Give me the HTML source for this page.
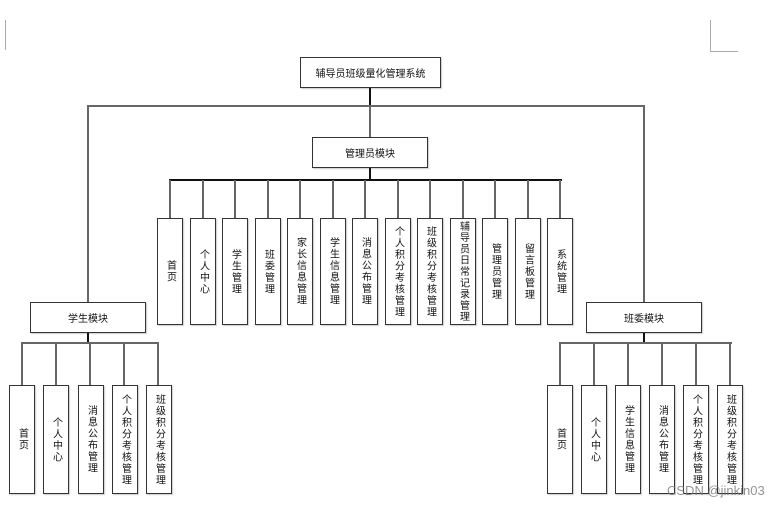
<!DOCTYPE html>
<html><head><meta charset="utf-8"><style>
body{margin:0;width:782px;height:508px;background:#fff;position:relative;overflow:hidden;font-family:"Liberation Sans","Noto Sans CJK SC",sans-serif;}
.b{position:absolute;box-sizing:border-box;border:1.5px solid #333;background:#fff;box-shadow:1px 1px 1px #ccc;display:flex;align-items:center;justify-content:center;font-size:10px;color:#111;}
.v{writing-mode:vertical-rl;letter-spacing:1.5px;}
.h{position:absolute;height:2px;background:#666;}
.l{position:absolute;width:2px;background:#666;}
.k{background:#111;}
</style></head><body>
<div class="l" style="left:5px;top:20px;height:30px;background:#aaa;width:1px"></div>
<div class="l" style="left:710px;top:20px;height:31px;background:#aaa;width:1px"></div>
<div class="h" style="left:710px;top:51px;width:28px;background:#aaa;height:1px"></div>

<div class="b" style="left:300px;top:57px;width:141px;height:31px">辅导员班级量化管理系统</div>
<div class="l k" style="left:369px;top:88px;height:19px"></div>
<div class="h" style="left:88px;top:105px;width:557px"></div>
<div class="l" style="left:87px;top:105px;height:197px"></div>
<div class="l" style="left:643px;top:105px;height:197px"></div>
<div class="l" style="left:369px;top:107px;height:30px"></div>

<div class="b" style="left:312px;top:137px;width:116px;height:31px">管理员模块</div>
<div class="l k" style="left:369px;top:168px;height:12px"></div>
<div class="h k" style="left:169px;top:179px;width:393px"></div>

<div class="l" style="left:169px;top:180px;height:38px"></div>
<div class="l" style="left:202px;top:180px;height:38px"></div>
<div class="l" style="left:234px;top:180px;height:38px"></div>
<div class="l" style="left:267px;top:180px;height:38px"></div>
<div class="l" style="left:299px;top:180px;height:38px"></div>
<div class="l" style="left:332px;top:180px;height:38px"></div>
<div class="l" style="left:364px;top:180px;height:38px"></div>
<div class="l" style="left:397px;top:180px;height:38px"></div>
<div class="l" style="left:429px;top:180px;height:38px"></div>
<div class="l" style="left:462px;top:180px;height:38px"></div>
<div class="l" style="left:494px;top:180px;height:38px"></div>
<div class="l" style="left:527px;top:180px;height:38px"></div>
<div class="l" style="left:559px;top:180px;height:38px"></div>

<div class="b" style="left:157px;top:218px;width:26px;height:107px"><span class="v">首页</span></div>
<div class="b" style="left:190px;top:218px;width:26px;height:107px"><span class="v">个人中心</span></div>
<div class="b" style="left:222px;top:218px;width:26px;height:107px"><span class="v">学生管理</span></div>
<div class="b" style="left:255px;top:218px;width:26px;height:107px"><span class="v">班委管理</span></div>
<div class="b" style="left:287px;top:218px;width:26px;height:107px"><span class="v">家长信息管理</span></div>
<div class="b" style="left:320px;top:218px;width:26px;height:107px"><span class="v">学生信息管理</span></div>
<div class="b" style="left:352px;top:218px;width:26px;height:107px"><span class="v">消息公布管理</span></div>
<div class="b" style="left:385px;top:218px;width:26px;height:107px"><span class="v">个人积分考核管理</span></div>
<div class="b" style="left:417px;top:218px;width:26px;height:107px"><span class="v">班级积分考核管理</span></div>
<div class="b" style="left:450px;top:218px;width:26px;height:107px"><span class="v" style="letter-spacing:1.3px">辅导员日常记录管理</span></div>
<div class="b" style="left:482px;top:218px;width:26px;height:107px"><span class="v">管理员管理</span></div>
<div class="b" style="left:515px;top:218px;width:26px;height:107px"><span class="v">留言板管理</span></div>
<div class="b" style="left:547px;top:218px;width:26px;height:107px"><span class="v">系统管理</span></div>

<div class="b" style="left:30px;top:302px;width:116px;height:31px">学生模块</div>
<div class="l k" style="left:87px;top:333px;height:10px"></div>
<div class="h" style="left:21px;top:342px;width:138px"></div>
<div class="l" style="left:21px;top:343px;height:42px"></div>
<div class="l" style="left:55px;top:343px;height:42px"></div>
<div class="l" style="left:89px;top:343px;height:42px"></div>
<div class="l" style="left:123px;top:343px;height:42px"></div>
<div class="l" style="left:157px;top:343px;height:42px"></div>
<div class="b" style="left:9px;top:385px;width:26px;height:109px"><span class="v">首页</span></div>
<div class="b" style="left:43px;top:385px;width:26px;height:109px"><span class="v">个人中心</span></div>
<div class="b" style="left:78px;top:385px;width:26px;height:109px"><span class="v">消息公布管理</span></div>
<div class="b" style="left:112px;top:385px;width:26px;height:109px"><span class="v">个人积分考核管理</span></div>
<div class="b" style="left:146px;top:385px;width:26px;height:109px"><span class="v">班级积分考核管理</span></div>

<div class="b" style="left:586px;top:302px;width:116px;height:31px">班委模块</div>
<div class="l k" style="left:643px;top:333px;height:10px"></div>
<div class="h" style="left:559px;top:342px;width:173px"></div>
<div class="l" style="left:559px;top:343px;height:42px"></div>
<div class="l" style="left:593px;top:343px;height:42px"></div>
<div class="l" style="left:627px;top:343px;height:42px"></div>
<div class="l" style="left:661px;top:343px;height:42px"></div>
<div class="l" style="left:695px;top:343px;height:42px"></div>
<div class="l" style="left:729px;top:343px;height:42px"></div>
<div class="b" style="left:547px;top:385px;width:26px;height:109px"><span class="v">首页</span></div>
<div class="b" style="left:581px;top:385px;width:26px;height:109px"><span class="v">个人中心</span></div>
<div class="b" style="left:615px;top:385px;width:26px;height:109px"><span class="v">学生信息管理</span></div>
<div class="b" style="left:649px;top:385px;width:26px;height:109px"><span class="v">消息公布管理</span></div>
<div class="b" style="left:683px;top:385px;width:26px;height:109px"><span class="v">个人积分考核管理</span></div>
<div class="b" style="left:717px;top:385px;width:26px;height:109px"><span class="v">班级积分考核管理</span></div>

<div style="position:absolute;left:667px;top:483px;font-size:13px;color:rgba(120,120,120,0.8);">CSDN @jinkin03</div>
</body></html>
